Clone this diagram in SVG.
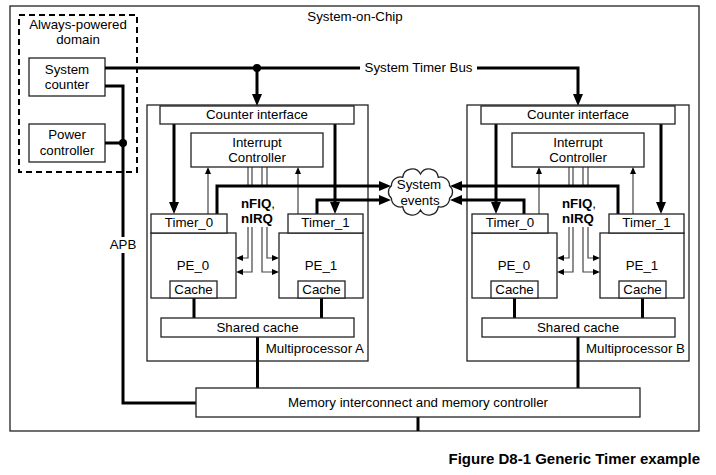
<svg xmlns="http://www.w3.org/2000/svg" width="716" height="475" viewBox="0 0 716 475">
<style>
text{font-family:"Liberation Sans",Arial,sans-serif;font-size:13.3px;fill:#000}
.c{text-anchor:middle}
.e{text-anchor:end}
.b{font-weight:bold}
.title{font-size:15px}
.box{fill:#fff;stroke:#222;stroke-width:1.3}
.frame{fill:none;stroke:#222;stroke-width:1.3}
.thick{fill:none;stroke:#000;stroke-width:3}
.thin{fill:none;stroke:#444;stroke-width:1.2}
</style>
<defs>
<marker id="big" viewBox="0 0 12 10" refX="6" refY="5" markerWidth="12" markerHeight="10" markerUnits="userSpaceOnUse" orient="auto"><path d="M0,0L12,5L0,10z" fill="#000"/></marker>
<marker id="sm" viewBox="0 0 7 6" refX="3" refY="3" markerWidth="7" markerHeight="6" markerUnits="userSpaceOnUse" orient="auto"><path d="M0,0L7,3L0,6z" fill="#000"/></marker>
</defs>
<rect width="716" height="475" fill="#fff"/>
<g id="soc"><rect class="frame" x="10" y="6" width="689" height="425"/><text class="c" x="355" y="21">System-on-Chip</text></g>
<g id="always-powered"><rect x="19" y="15" width="118" height="157" fill="none" stroke="#000" stroke-width="2" stroke-dasharray="6,4"/><text class="c" x="78" y="29">Always-powered</text><text class="c" x="78" y="44">domain</text></g>
<g id="system-counter"><rect class="box" x="29" y="58" width="76" height="38"/><text class="c" x="67" y="74">System</text><text class="c" x="67" y="89">counter</text></g>
<g id="power-controller"><rect class="box" x="29" y="124" width="76" height="38"/><text class="c" x="67" y="139">Power</text><text class="c" x="67" y="155">controller</text></g>

<g id="mp-a"><rect class="frame" x="147" y="105" width="221" height="256"/><text class="e" x="364" y="353">Multiprocessor A</text></g>
<g id="mp-b"><rect class="frame" x="467" y="105" width="222" height="256"/><text class="e" x="685" y="353">Multiprocessor B</text></g>

<g id="connectors">
<path class="thick" d="M105,68H360"/>
<path class="thick" d="M477,68H578V100" marker-end="url(#big)"/>
<path class="thick" d="M257,68V100" marker-end="url(#big)"/>
<circle cx="257" cy="68" r="4" fill="#000"/>
<path class="thick" d="M105,86H123V237M123,253V403H196"/>
<path class="thick" d="M105,143H123"/>
<circle cx="123" cy="143" r="4" fill="#000"/>
<path class="thick" d="M174,124V208" marker-end="url(#big)"/>
<path class="thick" d="M335,124V208" marker-end="url(#big)"/>
<path class="thin" d="M208,214V171" marker-end="url(#sm)"/>
<path class="thin" d="M298,214V171" marker-end="url(#sm)"/>
<path class="thin" d="M248,167V186M252,167V186M262,167V186M267,167V186"/>
<path class="thin" d="M248,227V258H240" marker-end="url(#sm)"/>
<path class="thin" d="M252,227V272H240" marker-end="url(#sm)"/>
<path class="thin" d="M267,227V258H275" marker-end="url(#sm)"/>
<path class="thin" d="M262,227V272H275" marker-end="url(#sm)"/>
<path class="thick" d="M217,214V186H385" marker-end="url(#big)"/>
<path class="thick" d="M317,214V200H385" marker-end="url(#big)"/>
<path class="thick" d="M194,298V318M321.5,298V318M257.5,337V388"/>
<path class="thick" d="M496,124V208" marker-end="url(#big)"/>
<path class="thick" d="M661,124V208" marker-end="url(#big)"/>
<path class="thin" d="M539,214V171" marker-end="url(#sm)"/>
<path class="thin" d="M633,214V171" marker-end="url(#sm)"/>
<path class="thin" d="M569,167V186M573,167V186M583,167V186M588,167V186"/>
<path class="thin" d="M569,227V258H561" marker-end="url(#sm)"/>
<path class="thin" d="M573,227V272H561" marker-end="url(#sm)"/>
<path class="thin" d="M588,227V258H596" marker-end="url(#sm)"/>
<path class="thin" d="M583,227V272H596" marker-end="url(#sm)"/>
<path class="thick" d="M618,214V186H456" marker-end="url(#big)"/>
<path class="thick" d="M524,214V200H456" marker-end="url(#big)"/>
<path class="thick" d="M514.5,298V318M642.5,298V318M578,337V388"/>
<path class="thick" d="M418,417V431"/>
<text class="c" x="418.5" y="72">System Timer Bus</text>
<text class="c" x="123" y="249">APB</text>
<text class="c b" x="258" y="208">nFIQ<tspan font-weight="normal">,</tspan></text>
<text class="c b" x="257" y="223">nIRQ</text>
<text class="c b" x="579" y="208">nFIQ<tspan font-weight="normal">,</tspan></text>
<text class="c b" x="578" y="223">nIRQ</text>
</g>

<g id="counter-interface-a"><rect class="box" x="160" y="106" width="194" height="18"/><text class="c" x="257" y="119">Counter interface</text></g>
<g id="counter-interface-b"><rect class="box" x="481" y="106" width="194" height="18"/><text class="c" x="578" y="119">Counter interface</text></g>
<g id="interrupt-controller-a"><rect class="box" x="191" y="133" width="132" height="34"/><text class="c" x="257" y="147">Interrupt</text><text class="c" x="257" y="162">Controller</text></g>
<g id="interrupt-controller-b"><rect class="box" x="512" y="133" width="132" height="34"/><text class="c" x="578" y="147">Interrupt</text><text class="c" x="578" y="162">Controller</text></g>

<g id="pe0-a"><rect class="box" x="151" y="233" width="85" height="65"/><text class="c" x="193" y="270">PE_0</text></g>
<g id="timer0-a"><rect class="box" x="151" y="214" width="76" height="19"/><text class="c" x="189" y="227">Timer_0</text></g>
<g id="cache0-a"><rect class="box" x="170" y="281" width="47" height="17"/><text class="c" x="193.5" y="294">Cache</text></g>
<g id="pe1-a"><rect class="box" x="279" y="233" width="84" height="65"/><text class="c" x="321" y="270">PE_1</text></g>
<g id="timer1-a"><rect class="box" x="288" y="214" width="75" height="19"/><text class="c" x="325.5" y="227">Timer_1</text></g>
<g id="cache1-a"><rect class="box" x="298" y="281" width="47" height="17"/><text class="c" x="321.5" y="294">Cache</text></g>
<g id="shared-cache-a"><rect class="box" x="161" y="318" width="193" height="19"/><text class="c" x="257.5" y="332">Shared cache</text></g>

<g id="pe0-b"><rect class="box" x="472" y="233" width="85" height="65"/><text class="c" x="514" y="270">PE_0</text></g>
<g id="timer0-b"><rect class="box" x="472" y="214" width="76" height="19"/><text class="c" x="510" y="227">Timer_0</text></g>
<g id="cache0-b"><rect class="box" x="491" y="281" width="47" height="17"/><text class="c" x="514.5" y="294">Cache</text></g>
<g id="pe1-b"><rect class="box" x="600" y="233" width="84" height="65"/><text class="c" x="642" y="270">PE_1</text></g>
<g id="timer1-b"><rect class="box" x="609" y="214" width="75" height="19"/><text class="c" x="646.5" y="227">Timer_1</text></g>
<g id="cache1-b"><rect class="box" x="619" y="281" width="47" height="17"/><text class="c" x="642.5" y="294">Cache</text></g>
<g id="shared-cache-b"><rect class="box" x="482" y="318" width="193" height="19"/><text class="c" x="578" y="332">Shared cache</text></g>

<g id="system-events">
<path class="box" d="M391.4,185.8A9,9 0 0 1 402.7,177.3A9.5,9.5 0 0 1 420.5,174A9.5,9.5 0 0 1 438.3,177.3A9,9 0 0 1 449.6,185.8A8,8 0 0 1 449.6,198.2A9,9 0 0 1 438.3,206.7A9.5,9.5 0 0 1 420.5,210A9.5,9.5 0 0 1 402.7,206.7A9,9 0 0 1 391.4,198.2A8,8 0 0 1 391.4,185.8Z"/>
<text class="c" x="419" y="189">System</text><text class="c" x="420" y="205">events</text>
</g>

<g id="memory"><rect class="box" x="196" y="388" width="444" height="29"/><text class="c" x="418" y="407">Memory interconnect and memory controller</text></g>

<text class="e b title" x="700" y="464">Figure D8-1 Generic Timer example</text>
</svg>
